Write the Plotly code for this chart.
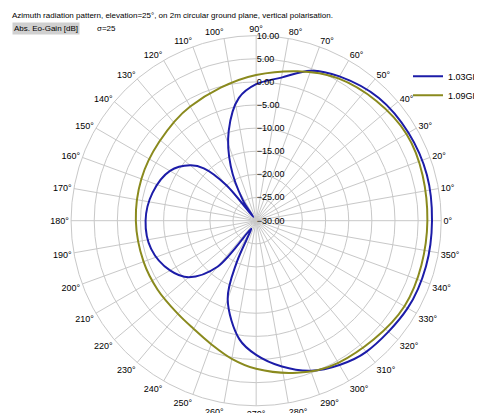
import plotly.graph_objects as go

ang_b = [0, 15, 30, 45, 60, 70, 80, 90, 98, 107, 115, 123, 127, 130, 135, 140, 150, 165, 180, 195, 210, 220, 230, 238, 242, 245, 250, 262, 270, 280, 290, 300, 310, 330, 345, 360]
val_b = [8.0, 8.2, 8.0, 7.5, 6.0, 4.5, 1.4, -0.5, -3.2, -9.7, -17, -24.7, -29, -20, -14, -11.4, -8.5, -6.8, -6.1, -6.5, -8.5, -11, -17, -28, -27, -20, -12, -4.1, -1.0, 2.0, 4.5, 6.0, 7.0, 7.8, 8.0, 8.0]
ang_y = [0, 30, 60, 90, 120, 141, 160, 180, 200, 215, 230, 240, 250, 260, 270, 285, 300, 330, 360]
val_y = [7.0, 7.5, 5.5, 1.5, -1.5, -3.0, -3.6, -4.0, -4.1, -4.0, -3.7, -3.0, -1.6, 0.3, 2.0, 4.0, 5.5, 7.0, 7.0]

fig = go.Figure()
fig.add_trace(go.Scatterpolar(r=val_b, theta=ang_b, mode="lines", name="1.03GHz",
                              line=dict(color="#1c1ca8", width=2, shape="spline")))
fig.add_trace(go.Scatterpolar(r=val_y, theta=ang_y, mode="lines", name="1.09GHz",
                              line=dict(color="#8a8a1e", width=2, shape="spline")))
fig.update_layout(
    width=482, height=413, margin=dict(l=0, r=0, t=0, b=0),
    paper_bgcolor="white", font=dict(family="Liberation Sans, Arial", size=9, color="black"),
    polar=dict(
        domain=dict(x=[0.145, 0.996], y=[0.0, 0.97]),
        bgcolor="white",
        angularaxis=dict(direction="counterclockwise", rotation=0, dtick=10, ticksuffix="°",
                         gridcolor="#c8c8c8", linecolor="#c8c8c8", ticks="", tickfont=dict(size=9)),
        radialaxis=dict(range=[-30, 10], dtick=5, tickformat=".2f", angle=90, tickangle=90,
                        gridcolor="#c8c8c8", showline=False, ticks="", tickfont=dict(size=9)),
    ),
    legend=dict(x=0.92, y=0.87, xanchor="left", yanchor="top", bgcolor="rgba(0,0,0,0)", font=dict(size=9)),
    annotations=[
        dict(text="Azimuth radiation pattern, elevation=25°, on 2m circular ground plane, vertical polarisation.",
             x=0.005, y=0.998, xref="paper", yref="paper", xanchor="left", yanchor="top", showarrow=False, font=dict(size=8)),
        dict(text="Abs. Eo-Gain [dB]", x=0.01, y=0.965, xref="paper", yref="paper", xanchor="left", yanchor="top",
             showarrow=False, bgcolor="#d0d0d0", font=dict(size=8)),
        dict(text="σ=25", x=0.2, y=0.965, xref="paper", yref="paper", xanchor="left", yanchor="top",
             showarrow=False, font=dict(size=8)),
    ],
)
fig.write_html("out.html")
